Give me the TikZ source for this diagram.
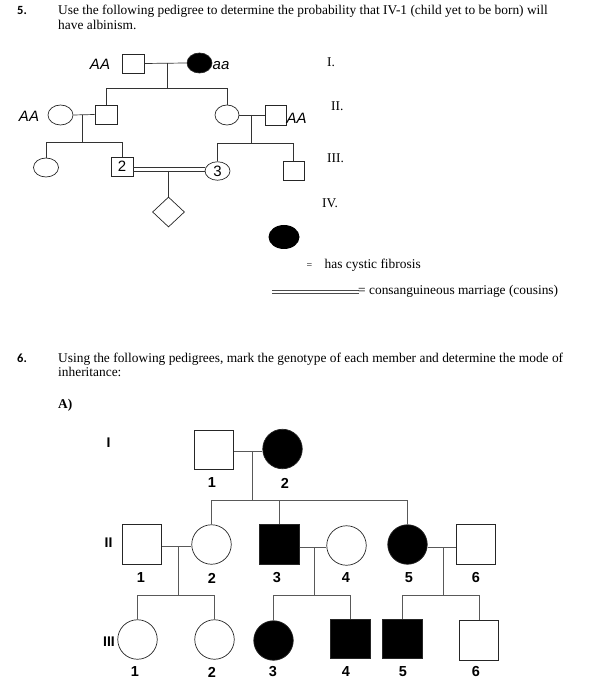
\documentclass[tikz,border=0pt]{standalone}
\usepackage{fontspec}
\setmainfont{Liberation Serif}
\newfontfamily\arialf{Liberation Sans}
\newfontfamily\calf{Carlito}
\usetikzlibrary{shapes.geometric}
\begin{document}
\begin{tikzpicture}[x=1pt,y=-1pt,
  txt/.style={anchor=base west,inner sep=0pt,font=\fontsize{13.4}{15}\selectfont},
  num/.style={anchor=base west,inner sep=0pt,font=\calf\bfseries\fontsize{12.5}{14}\selectfont},
  lvl/.style={anchor=base west,inner sep=0pt,font=\fontsize{13.4}{15}\selectfont},
  geno/.style={inner sep=0pt,font=\arialf\itshape\fontsize{15}{17}\selectfont},
  ln/.style={draw=black!80,line width=0.7pt},
  sqa/.style={rectangle,draw=black!85,line width=0.7pt,minimum width=22pt,minimum height=19pt,inner sep=0pt,font=\arialf\fontsize{15}{17}\selectfont},
  ela/.style={ellipse,draw=black!85,line width=0.7pt,minimum width=25pt,minimum height=20pt,inner sep=0pt,font=\arialf\fontsize{15}{17}\selectfont},
  dia/.style={diamond,draw=black!85,line width=0.7pt,minimum width=32pt,minimum height=30pt,inner sep=0pt},
  lnb/.style={draw=black!65,line width=0.8pt},
  sqb/.style={rectangle,draw=black!85,line width=0.7pt,minimum size=39.5pt,inner sep=0pt},
  cib/.style={circle,draw=black!85,line width=0.7pt,minimum size=39.5pt,inner sep=0pt},
  aff/.style={fill=black},
  idl/.style={inner sep=0pt,font=\arialf\bfseries\fontsize{14.5}{16}\selectfont},
  gen/.style={inner sep=0pt,font=\arialf\bfseries\fontsize{14}{16}\selectfont}
]
\fill[white] (0,0) rectangle (592,700);
\useasboundingbox (0,0) rectangle (592,700);

% ---------- Question 5 ----------
\node[num] (q5n) at (17,15) {5.};
\node[txt] (q5a) at (58,15) {Use the following pedigree to determine the probability that IV-1 (child yet to be born) will};
\node[txt] (q5b) at (58,30) {have albinism.};

% generation I
\node[sqa] (a11) at (133,63.5) {};
\node[ela,aff] (a12) at (199.5,63) {};
\node[geno] (g11) at (100,64) {AA};
\node[geno,anchor=west] (g12) at (212.5,66) {aa};
% generation II
\node[ela] (a21) at (60.5,115) {};
\node[sqa] (a22) at (106,114.5) {};
\node[ela,minimum width=24pt] (a23) at (227,115) {};
\node[sqa,minimum width=21pt,minimum height=20pt] (a24) at (275.5,115) {};
\node[geno] (g21) at (29,116) {AA};
\node[geno,anchor=west] (g24) at (286.5,118) {AA};
% generation III
\node[ela,minimum height=19pt] (a31) at (46,167.5) {};
\node[sqa] (a32) at (122,166.5) {2};
\node[ela,minimum height=18.5pt] (a33) at (217.5,171) {\raisebox{-2pt}{3}};
\node[sqa,minimum width=21pt] (a34) at (293.5,171) {};
% generation IV
\node[dia] (a41) at (168.5,212) {};

% connectors
\coordinate (m1) at (167,63);
\coordinate (m1b) at (167,88);
\draw[ln] (a11.east) -- (a12.west);
\draw[ln] (m1) -- (m1b);
\draw[ln] (a22.north) -- (106,88) -- (227,88) -- (a23.north);
\coordinate (m2) at (82,115);
\draw[ln] (a21.east) -- (a22.west);
\draw[ln] (m2) -- (82,142);
\draw[ln] (a31.north) -- (46,142) -- (122,142) -- (a32.north);
\coordinate (m3) at (251,115);
\draw[ln] (a23.east) -- (a24.west);
\draw[ln] (m3) -- (251,143);
\draw[ln] (a33.north) -- (217.5,143) -- (293.5,143) -- (a34.north);
\draw[ln] (a32.east |- 0,167) -- (205.2,167);
\draw[ln] (a32.east |- 0,171) -- (a33.west |- 0,171);
\draw[ln] (168.5,171) -- (a41.north);

% level labels
\node[lvl] (l1) at (327,67) {I.};
\node[lvl] (l2) at (331,111) {II.};
\node[lvl] (l3) at (327,163) {III.};
\node[lvl] (l4) at (322,208) {IV.};

% legend
\node[ellipse,fill=black,minimum width=31pt,minimum height=24pt,inner sep=0pt] (leg1) at (284,237) {};
\node[txt,font=\fontsize{10}{12}\selectfont] (leg1e) at (306.5,268) {=};
\node[txt] (leg1t) at (324.5,268) {has cystic fibrosis};
\coordinate (lg2a) at (272,290);
\coordinate (lg2b) at (359,290);
\draw[draw=black!70,line width=0.6pt] (lg2a) -- (lg2b);
\draw[draw=black!70,line width=0.6pt] (272,293) -- (359,293);
\node[txt] (leg2t) at (358,294) {= consanguineous marriage (cousins)};

% ---------- Question 6 ----------
\node[num] (q6n) at (17,362) {6.};
\node[txt] (q6a) at (58,362) {Using the following pedigrees, mark the genotype of each member and determine the mode of};
\node[txt] (q6b) at (58,376) {inheritance:};
\node[txt,font=\bfseries\fontsize{13.4}{15}\selectfont] (q6c) at (58,408) {A)};

% generation labels
\node[gen] (gI) at (108.5,443) {I};
\node[gen] (gII) at (108.5,543) {II};
\node[gen] (gIII) at (109,642) {III};

% generation I
\node[sqb] (b11) at (214,450) {};
\node[cib,aff] (b12) at (282.5,449) {};
\node[idl] at (212,483) {1};
\node[idl] at (285,483) {2};
% generation II
\node[sqb] (b21) at (142,544.5) {};
\node[cib] (b22) at (211.5,544.5) {};
\node[sqb,aff] (b23) at (279.5,544.5) {};
\node[cib] (b24) at (346.5,545.5) {};
\node[cib,aff] (b25) at (407.5,544.5) {};
\node[sqb] (b26) at (476,544.5) {};
\foreach \x/\t in {141/1,212/2,277/3,346/4,409/5,476/6} \node[idl] at (\x,578) {\t};
% generation III
\node[cib] (b31) at (137.5,639.5) {};
\node[cib] (b32) at (214.5,639.5) {};
\node[cib,aff] (b33) at (273.5,640.5) {};
\node[sqb,aff] (b34) at (350.5,639) {};
\node[sqb,aff] (b35) at (402.5,639) {};
\node[sqb] (b36) at (479,640.5) {};
\foreach \x/\t in {135/1,212/2,273/3,346/4,403/5,476/6} \node[idl] at (\x,672) {\t};

% connectors
\draw[lnb] (b11.east |- 0,451) -- (b12.west |- 0,451);
\draw[lnb] (252,451) -- (252,500);
\draw[lnb] (b22.north) -- (211.5,500) -- (407.5,500) -- (b25.north);
\draw[lnb] (279.5,500) -- (b23.north);
\draw[lnb] (b21.east |- 0,546) -- (b22.west |- 0,546);
\draw[lnb] (b23.east |- 0,547) -- (b24.west |- 0,547);
\draw[lnb] (b25.east |- 0,547) -- (b26.west |- 0,547);
\draw[lnb] (178,546) -- (178,595);
\draw[lnb] (314,547) -- (314,595);
\draw[lnb] (443,547) -- (443,595);
\draw[lnb] (b31.north) -- (137.5,595) -- (214.5,595) -- (b32.north);
\draw[lnb] (b33.north) -- (273.5,595) -- (350.5,595) -- (b34.north);
\draw[lnb] (b35.north) -- (402.5,595) -- (479,595) -- (b36.north);
\end{tikzpicture}
\end{document}
